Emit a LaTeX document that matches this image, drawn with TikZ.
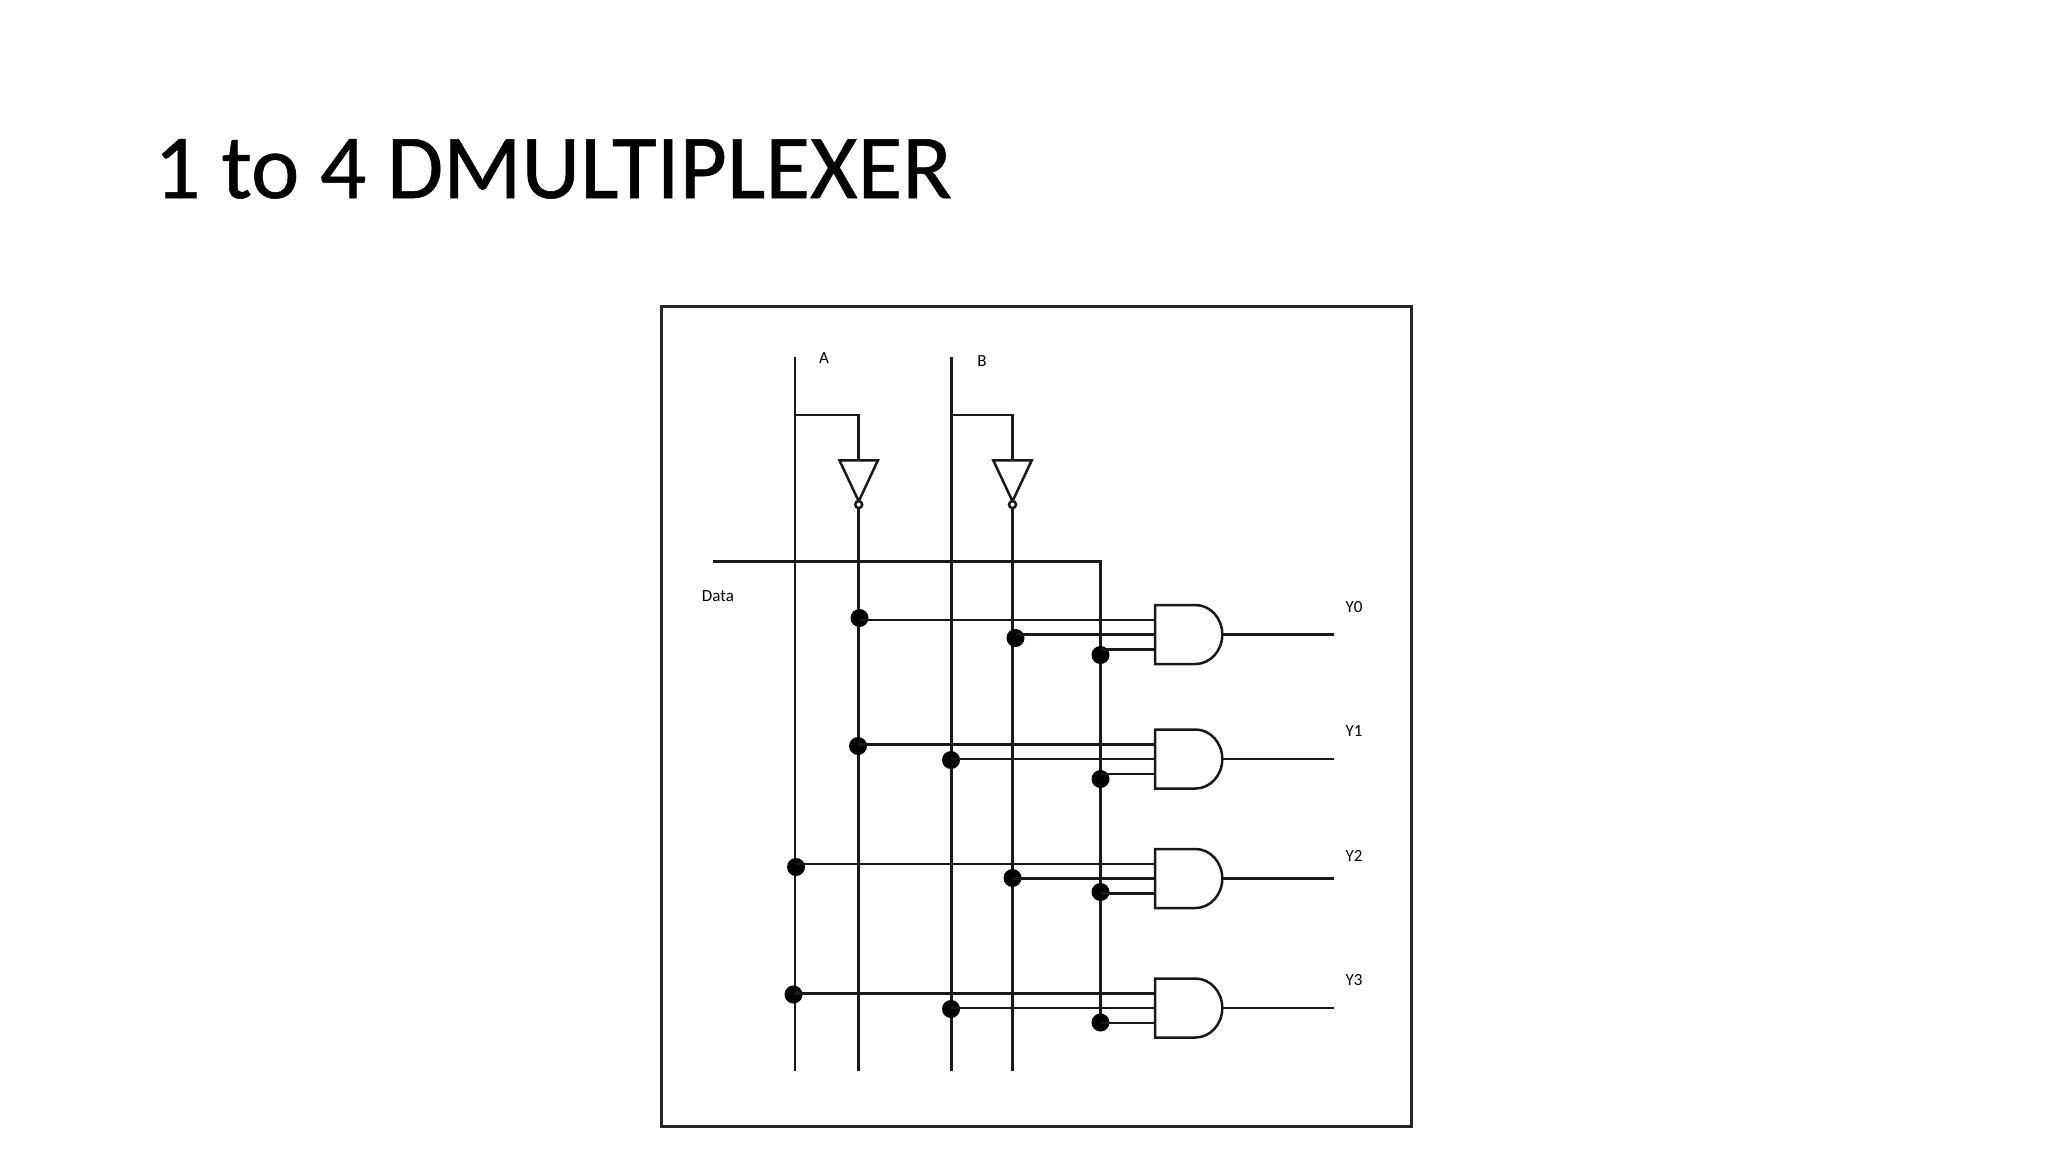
\documentclass[tikz,border=0pt]{standalone}
\usepackage{fontspec}
\setmainfont{Carlito}
\newfontfamily\titlefont[FakeBold=0.6]{Carlito}
\usetikzlibrary{shapes.gates.logic.US}

\tikzset{
  wire/.style={line width=2.5pt,black!90},
  dot/.style={circle,fill=black,inner sep=0pt,minimum size=18pt},
  andgate/.style={and gate US,draw,wire,logic gate inputs=nnn,logic gate input sep=14.3pt,
    xscale=0.91,minimum width=62pt,minimum height=59pt,inner sep=0pt,fill=white},
  notgate/.style={not gate US,draw,wire,rotate=-90,logic gate inverted radius=3.5pt,
    minimum width=40pt,minimum height=33pt,inner sep=0pt},
  tag/.style={font=\fontsize{17}{17}\selectfont,inner sep=0pt}
}

\begin{document}
\begin{tikzpicture}[x=1pt,y=-1pt]
  \useasboundingbox (0,0) rectangle (2048,1152);
  % Title
  \node[anchor=base west,inner sep=0pt,font=\titlefont\fontsize{91.5}{92}\selectfont] (title) at (154,198) {1 to 4 DMULTIPLEXER};
  % Draw box
  \node[draw,line width=3pt,black!85,minimum width=750pt,minimum height=820pt,inner sep=0pt] (frame) at (1036,716.7) {};
  % Select lines
  \coordinate (Atop) at (795,357);
  \coordinate (Abot) at (795,1071);
  \coordinate (Btop) at (951.5,357);
  \coordinate (Bbot) at (951.5,1071);
  \draw[wire] (Atop) -- (Abot);
  \draw[wire] (Btop) -- (Bbot);
  \node[tag] (labelA) at (824,358) {A};
  \node[tag] (labelB) at (982,361) {B};
  % Inverters
  \node[notgate] (invA) at (858.7,474) {};
  \node[notgate] (invB) at (1012.5,474) {};
  \coordinate (Abranch) at (795,415);
  \coordinate (Bbranch) at (951.5,415);
  \coordinate (nAbot) at (858.7,1071);
  \coordinate (nBbot) at (1012.5,1071);
  \draw[wire] (Abranch) -| (invA.input);
  \draw[wire] (Bbranch) -| (invB.input);
  \draw[wire] (invA.output) -- (nAbot);
  \draw[wire] (invB.output) -- (nBbot);
  % Data line
  \coordinate (Dstart) at (713,561.5);
  \coordinate (Dbot) at (1100.5,1022);
  \draw[wire] (Dstart) -| (Dbot);
  \node[tag] (labelD) at (718,596) {Data};
  % Draw gates
  \node[andgate] (g0) at (1186.5,634.5) {};
  \node[andgate] (g1) at (1186.5,759) {};
  \node[andgate] (g2) at (1186.5,878.5) {};
  \node[andgate] (g3) at (1186.5,1008) {};
  % Dots on the lines
  \node[dot] (d0a) at (859.5,618) {};
  \node[dot] (d0b) at (1015.5,638) {};
  \node[dot] (d0c) at (1100.5,655) {};
  \node[dot] (d1a) at (858,746) {};
  \node[dot] (d1b) at (951,760) {};
  \node[dot] (d1c) at (1100.5,779) {};
  \node[dot] (d2a) at (796,867) {};
  \node[dot] (d2b) at (1012.5,878) {};
  \node[dot] (d2c) at (1100.5,892) {};
  \node[dot] (d3a) at (793.5,994.5) {};
  \node[dot] (d3b) at (951,1009) {};
  \node[dot] (d3c) at (1100.5,1022.5) {};
  % Gate inputs
  \draw[wire] (d0a |- g0.input 1) -- (g0.input 1);
  \draw[wire] (d0b |- g0.input 2) -- (g0.input 2);
  \draw[wire] (d0c |- g0.input 3) -- (g0.input 3);
  \draw[wire] (d1a |- g1.input 1) -- (g1.input 1);
  \draw[wire] (d1b |- g1.input 2) -- (g1.input 2);
  \draw[wire] (d1c |- g1.input 3) -- (g1.input 3);
  \draw[wire] (d2a |- g2.input 1) -- (g2.input 1);
  \draw[wire] (d2b |- g2.input 2) -- (g2.input 2);
  \draw[wire] (d2c |- g2.input 3) -- (g2.input 3);
  \draw[wire] (d3a |- g3.input 1) -- (g3.input 1);
  \draw[wire] (d3b |- g3.input 2) -- (g3.input 2);
  \draw[wire] (d3c |- g3.input 3) -- (g3.input 3);
  % Outputs
  \coordinate (y0end) at (1334,636);
  \coordinate (y1end) at (1334,760);
  \coordinate (y2end) at (1334,880);
  \coordinate (y3end) at (1334,1011);
  \draw[wire] (g0.output) -- (g0.output -| y0end);
  \draw[wire] (g1.output) -- (g1.output -| y1end);
  \draw[wire] (g2.output) -- (g2.output -| y2end);
  \draw[wire] (g3.output) -- (g3.output -| y3end);
  \node[tag] (labelY0) at (1354,607.5) {Y0};
  \node[tag] (labelY1) at (1354,731.5) {Y1};
  \node[tag] (labelY2) at (1354,855.5) {Y2};
  \node[tag] (labelY3) at (1354,980) {Y3};
\end{tikzpicture}
\end{document}
